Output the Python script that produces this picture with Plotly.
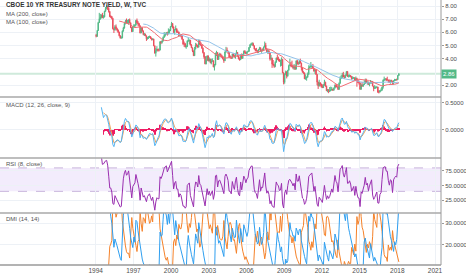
import numpy as np
import pandas as pd
import plotly.graph_objects as go
from plotly.subplots import make_subplots

# ---------------- data (monthly bars, Jan 1994 .. Feb 2018) ----------------
start_month = "1994-01-01"
first_open = 5.79
close = [
    5.70, 6.14, 6.74, 7.04, 7.15, 7.32, 7.11, 7.17, 7.60, 7.81, 7.91, 7.82,
    7.58, 7.20, 7.20, 7.06, 6.28, 6.20, 6.43, 6.28, 6.17, 6.02, 5.74, 5.57,
    5.58, 6.10, 6.33, 6.67, 6.85, 6.73, 6.80, 6.95, 6.72, 6.37, 6.06, 6.42,
    6.49, 6.55, 6.90, 6.72, 6.66, 6.50, 5.95, 6.34, 6.10, 5.83, 5.87, 5.74,
    5.51, 5.62, 5.65, 5.67, 5.55, 5.45, 5.49, 4.98, 4.42, 4.61, 4.71, 4.65,
    4.65, 5.29, 5.24, 5.35, 5.62, 5.78, 5.90, 5.97, 5.88, 6.02, 6.19, 6.44,
    6.67, 6.41, 6.00, 6.21, 6.27, 6.03, 6.03, 5.73, 5.80, 5.75, 5.47, 5.11,
    5.11, 4.90, 4.92, 5.34, 5.38, 5.41, 5.05, 4.83, 4.59, 4.23, 4.75, 5.05,
    5.03, 4.88, 5.40, 5.09, 5.04, 4.80, 4.46, 4.14, 3.60, 3.89, 4.21, 3.82,
    3.96, 3.69, 3.80, 3.84, 3.37, 3.52, 4.41, 4.46, 3.94, 4.29, 4.33, 4.25,
    4.13, 3.97, 3.84, 4.51, 4.65, 4.58, 4.48, 4.12, 4.12, 4.03, 4.35, 4.22,
    4.13, 4.36, 4.48, 4.20, 3.98, 3.92, 4.28, 4.02, 4.33, 4.56, 4.49, 4.39,
    4.52, 4.55, 4.85, 5.06, 5.12, 5.14, 4.98, 4.73, 4.63, 4.60, 4.46, 4.70,
    4.83, 4.56, 4.64, 4.63, 4.89, 5.03, 4.76, 4.53, 4.58, 4.47, 3.97, 4.03,
    3.59, 3.51, 3.41, 3.73, 4.06, 3.97, 3.95, 3.81, 3.82, 3.95, 2.93, 2.21,
    2.84, 3.01, 2.67, 3.12, 3.47, 3.53, 3.48, 3.40, 3.31, 3.39, 3.20, 3.84,
    3.61, 3.61, 3.84, 3.66, 3.29, 2.97, 2.91, 2.47, 2.51, 2.60, 2.81, 3.29,
    3.37, 3.42, 3.47, 3.29, 3.05, 3.16, 2.80, 2.22, 1.92, 2.17, 2.07, 1.88,
    1.80, 1.98, 2.21, 1.91, 1.56, 1.65, 1.51, 1.55, 1.63, 1.69, 1.61, 1.76,
    1.98, 1.88, 1.85, 1.67, 2.13, 2.49, 2.58, 2.78, 2.61, 2.55, 2.74, 3.03,
    2.64, 2.65, 2.72, 2.65, 2.47, 2.53, 2.56, 2.35, 2.51, 2.34, 2.18, 2.17,
    1.67, 1.99, 1.93, 2.03, 2.12, 2.35, 2.18, 2.22, 2.04, 2.14, 2.21, 2.27,
    1.92, 1.74, 1.77, 1.83, 1.85, 1.47, 1.46, 1.58, 1.60, 1.84, 2.37, 2.44,
    2.45, 2.39, 2.39, 2.28, 2.21, 2.30, 2.29, 2.12, 2.33, 2.38, 2.41, 2.40,
    2.72, 2.86,
]
high = [
    5.88, 6.18, 6.80, 7.48, 7.40, 7.36, 7.48, 7.30, 7.64, 7.92, 8.05, 7.95,
    7.90, 7.62, 7.30, 7.24, 7.10, 6.35, 6.55, 6.60, 6.35, 6.22, 6.05, 5.78,
    5.70, 6.15, 6.42, 6.72, 6.95, 7.05, 6.95, 7.00, 7.05, 6.75, 6.40, 6.45,
    6.62, 6.60, 6.95, 7.05, 6.85, 6.72, 6.52, 6.40, 6.38, 6.15, 5.96, 5.90,
    5.75, 5.65, 5.70, 5.75, 5.72, 5.60, 5.55, 5.52, 5.00, 4.80, 4.95, 4.75,
    4.78, 5.32, 5.33, 5.40, 5.68, 6.02, 5.98, 6.02, 6.05, 6.30, 6.22, 6.48,
    6.79, 6.70, 6.45, 6.25, 6.52, 6.30, 6.15, 6.05, 5.90, 5.85, 5.82, 5.50,
    5.30, 5.20, 5.05, 5.40, 5.58, 5.45, 5.42, 5.10, 4.85, 4.62, 4.90, 5.20,
    5.15, 5.05, 5.45, 5.42, 5.25, 5.05, 4.85, 4.50, 4.20, 4.20, 4.25, 4.25,
    4.10, 4.00, 4.00, 4.02, 3.88, 3.60, 4.45, 4.60, 4.48, 4.35, 4.45, 4.40,
    4.30, 4.18, 4.00, 4.55, 4.90, 4.85, 4.60, 4.50, 4.25, 4.15, 4.38, 4.40,
    4.30, 4.40, 4.65, 4.50, 4.22, 4.10, 4.35, 4.40, 4.36, 4.62, 4.65, 4.52,
    4.55, 4.62, 4.88, 5.10, 5.20, 5.25, 5.22, 5.00, 4.78, 4.82, 4.65, 4.72,
    4.90, 4.85, 4.70, 4.78, 4.92, 5.30, 5.20, 4.80, 4.72, 4.70, 4.45, 4.28,
    4.08, 3.90, 3.60, 3.80, 4.08, 4.30, 4.15, 3.98, 3.92, 4.10, 3.98, 2.95,
    2.88, 3.10, 3.05, 3.15, 3.55, 4.00, 3.75, 3.85, 3.48, 3.60, 3.50, 3.85,
    3.90, 3.75, 3.90, 4.00, 3.70, 3.35, 3.05, 2.95, 2.80, 2.65, 2.95, 3.50,
    3.48, 3.75, 3.50, 3.60, 3.30, 3.20, 3.22, 2.82, 2.25, 2.40, 2.20, 2.10,
    2.05, 2.06, 2.40, 2.25, 1.95, 1.70, 1.68, 1.85, 1.88, 1.85, 1.72, 1.82,
    2.05, 2.07, 2.08, 1.87, 2.20, 2.66, 2.75, 2.92, 3.00, 2.75, 2.80, 3.04,
    3.04, 2.79, 2.80, 2.75, 2.66, 2.66, 2.60, 2.58, 2.65, 2.55, 2.40, 2.33,
    2.18, 2.10, 2.25, 2.05, 2.36, 2.49, 2.48, 2.28, 2.26, 2.20, 2.38, 2.32,
    2.30, 1.92, 1.99, 1.90, 1.90, 1.87, 1.60, 1.60, 1.74, 1.86, 2.42, 2.64,
    2.52, 2.52, 2.63, 2.40, 2.42, 2.40, 2.40, 2.33, 2.36, 2.47, 2.42, 2.49,
    2.74, 2.88,
]
low = [
    5.62, 5.66, 6.10, 6.72, 6.95, 7.05, 7.08, 7.05, 7.14, 7.55, 7.75, 7.70,
    7.50, 7.15, 7.08, 6.98, 6.22, 5.95, 6.12, 6.22, 6.08, 5.95, 5.70, 5.52,
    5.53, 5.55, 6.05, 6.28, 6.60, 6.68, 6.65, 6.58, 6.68, 6.32, 6.02, 6.03,
    6.38, 6.35, 6.52, 6.68, 6.50, 6.42, 5.92, 5.94, 6.05, 5.78, 5.72, 5.70,
    5.35, 5.45, 5.50, 5.58, 5.50, 5.38, 5.40, 4.95, 4.40, 4.16, 4.55, 4.55,
    4.55, 4.64, 5.10, 5.15, 5.30, 5.60, 5.68, 5.82, 5.75, 5.85, 5.92, 6.10,
    6.40, 6.30, 5.95, 5.82, 6.15, 5.95, 5.95, 5.70, 5.68, 5.62, 5.45, 5.05,
    4.90, 4.85, 4.75, 4.88, 5.28, 5.08, 5.00, 4.80, 4.50, 4.20, 4.20, 4.70,
    4.90, 4.80, 4.85, 5.05, 4.95, 4.75, 4.40, 4.00, 3.58, 3.57, 3.85, 3.80,
    3.80, 3.65, 3.57, 3.78, 3.35, 3.10, 3.50, 4.20, 3.90, 3.92, 4.15, 4.10,
    4.05, 3.95, 3.68, 3.82, 4.45, 4.55, 4.35, 4.10, 4.00, 3.98, 4.02, 4.15,
    4.10, 4.00, 4.35, 4.15, 3.95, 3.85, 3.90, 4.00, 4.00, 4.30, 4.40, 4.35,
    4.32, 4.50, 4.55, 4.82, 5.00, 4.98, 4.95, 4.70, 4.55, 4.56, 4.42, 4.45,
    4.65, 4.52, 4.45, 4.55, 4.60, 4.85, 4.72, 4.45, 4.35, 4.37, 3.85, 3.90,
    3.30, 3.50, 3.30, 3.35, 3.70, 3.90, 3.80, 3.75, 3.40, 3.45, 2.90, 2.05,
    2.10, 2.75, 2.50, 2.65, 3.10, 3.45, 3.35, 3.35, 3.20, 3.15, 3.15, 3.20,
    3.55, 3.55, 3.58, 3.65, 3.10, 2.95, 2.85, 2.45, 2.40, 2.33, 2.55, 2.78,
    3.28, 3.40, 3.25, 3.27, 3.03, 2.85, 2.78, 1.98, 1.70, 1.90, 1.90, 1.80,
    1.78, 1.78, 1.96, 1.88, 1.54, 1.45, 1.38, 1.48, 1.58, 1.60, 1.55, 1.58,
    1.75, 1.84, 1.82, 1.62, 1.63, 2.10, 2.45, 2.55, 2.60, 2.48, 2.55, 2.70,
    2.63, 2.57, 2.60, 2.58, 2.40, 2.45, 2.45, 2.32, 2.35, 1.87, 2.16, 2.03,
    1.65, 1.66, 1.87, 1.85, 2.00, 2.09, 2.16, 2.03, 2.02, 1.90, 2.12, 2.10,
    1.90, 1.53, 1.73, 1.71, 1.79, 1.40, 1.36, 1.46, 1.52, 1.59, 1.72, 2.30,
    2.34, 2.31, 2.35, 2.17, 2.18, 2.10, 2.26, 2.04, 2.03, 2.30, 2.31, 2.34,
    2.40, 2.70,
]
last_price = 2.86

title_text = "CBOE 10 YR TREASURY NOTE YIELD, W, TVC"
ma_labels = ["MA (200, close)", "MA (100, close)"]
pane_labels = ["MACD (12, 26, close, 9)", "RSI (8, close)", "DMI (14, 14)"]
price_ticks = [1, 2, 4, 5, 6, 7, 8]          # 3.00 sits under the last-price tag
macd_ticks = [0.0, 0.5]
rsi_ticks = [25, 50, 75]
dmi_ticks = [20, 30]
rsi_band = [40, 80]
year_ticks = ["1994", "1997", "2000", "2003", "2006", "2009", "2012", "2015", "2018", "2021"]

# monthly equivalents of the weekly indicator lengths
ma_long, ma_short = 46, 23
macd_fast, macd_slow, macd_sig = 3, 6, 3
rsi_len = 5
dmi_len = 7

# ---------------- indicator computation ----------------
c = np.array(close, float)
h = np.array(high, float)
l = np.array(low, float)
o = np.concatenate([[first_open], c[:-1]])
dates = pd.date_range(start_month, periods=len(c), freq="MS") + pd.Timedelta(days=14)


def smooth(x, n, alpha):
    x = np.asarray(x, float)
    out = np.full(len(x), np.nan)
    valid = np.where(~np.isnan(x))[0]
    if len(valid) < n:
        return out
    f = valid[0]
    out[f + n - 1] = np.mean(x[f:f + n])
    for i in range(f + n, len(x)):
        out[i] = alpha * x[i] + (1 - alpha) * out[i - 1]
    return out


def ema(x, n):
    return smooth(x, n, 2.0 / (n + 1))


def rma(x, n):
    return smooth(x, n, 1.0 / n)


ma200 = pd.Series(c).rolling(ma_long).mean().to_numpy()
ma100 = pd.Series(c).rolling(ma_short).mean().to_numpy()

macd = ema(c, macd_fast) - ema(c, macd_slow)
signal = ema(macd, macd_sig)
hist = macd - signal

ch = np.diff(c, prepend=np.nan)
up = np.where(np.isnan(ch), np.nan, np.maximum(ch, 0))
dn = np.where(np.isnan(ch), np.nan, np.maximum(-ch, 0))
ru, rd = rma(up, rsi_len), rma(dn, rsi_len)
rsi = np.where(rd == 0, 100.0, 100 - 100 / (1 + ru / np.where(rd == 0, 1, rd)))

hp = np.concatenate([[np.nan], h[:-1]])
lp = np.concatenate([[np.nan], l[:-1]])
cp = np.concatenate([[np.nan], c[:-1]])
upm = h - hp
dnm = lp - l
plus_dm = np.where((upm > dnm) & (upm > 0), upm, 0.0)
minus_dm = np.where((dnm > upm) & (dnm > 0), dnm, 0.0)
plus_dm[0] = np.nan
minus_dm[0] = np.nan
tr = np.maximum(h - l, np.maximum(np.abs(h - cp), np.abs(l - cp)))
trur = rma(tr, dmi_len)
di_plus = 100 * rma(plus_dm, dmi_len) / trur
di_minus = 100 * rma(minus_dm, dmi_len) / trur

# ---------------- figure ----------------
W, H = 466, 275
PLOT_H = 265.0
FONT = "Liberation Sans, Arial, sans-serif"


def py(p):  # pixel row -> paper y
    return (PLOT_H - p) / PLOT_H


fig = make_subplots(rows=4, cols=1, shared_xaxes=True, vertical_spacing=0)

up_col, dn_col = "#53b987", "#eb4d5c"
fig.add_trace(go.Candlestick(
    x=dates, open=o, high=h, low=l, close=c,
    increasing=dict(line=dict(color=up_col, width=1), fillcolor=up_col),
    decreasing=dict(line=dict(color=dn_col, width=1), fillcolor=dn_col),
    whiskerwidth=0, showlegend=False), row=1, col=1)
fig.add_trace(go.Scatter(x=dates, y=ma200, mode="lines",
                         line=dict(color="#92c3ea", width=1), showlegend=False), row=1, col=1)
fig.add_trace(go.Scatter(x=dates, y=ma100, mode="lines",
                         line=dict(color="#f26b72", width=1), showlegend=False), row=1, col=1)

fig.add_trace(go.Bar(x=dates, y=hist, marker=dict(color="#ee1c64", line=dict(width=0)),
                     showlegend=False), row=2, col=1)
fig.add_trace(go.Scatter(x=dates, y=signal, mode="lines",
                         line=dict(color="#f3a35a", width=1), showlegend=False), row=2, col=1)
fig.add_trace(go.Scatter(x=dates, y=macd, mode="lines",
                         line=dict(color="#55b4f2", width=1), showlegend=False), row=2, col=1)

fig.add_trace(go.Scatter(x=dates, y=rsi, mode="lines",
                         line=dict(color="#9a2fb0", width=1), showlegend=False), row=3, col=1)

fig.add_trace(go.Scatter(x=dates, y=di_minus, mode="lines",
                         line=dict(color="#f5822a", width=1), showlegend=False), row=4, col=1)
fig.add_trace(go.Scatter(x=dates, y=di_plus, mode="lines",
                         line=dict(color="#2f9ff0", width=1), showlegend=False), row=4, col=1)

grid = "#edf1f6"
tick_font = dict(family=FONT, size=6, color="#4d4d4d")
fig.update_xaxes(type="date", range=["1986-05-22", "2021-06-24"],
                 tickmode="array", tickvals=year_ticks, tickformat="%Y",
                 showgrid=True, gridcolor=grid, gridwidth=1,
                 zeroline=False, showline=False, rangeslider_visible=False,
                 showticklabels=False, ticks="")
fig.update_xaxes(showticklabels=True, ticks="",
                 tickfont=dict(family=FONT, size=6.5, color="#4d4d4d"),
                 row=4, col=1)

yax = dict(side="right", showgrid=True, gridcolor=grid, zeroline=False, showline=False,
           ticks="outside", ticklen=2, tickcolor="#999999", tickfont=tick_font)
fig.update_layout(
    yaxis=dict(domain=[py(97), 1], range=[1.09, 8.456], tickvals=price_ticks, tickformat=".2f", **yax),
    yaxis2=dict(domain=[py(158), py(97)], range=[-0.519, 0.611], tickvals=macd_ticks, tickformat=".4f", **yax),
    yaxis3=dict(domain=[py(213), py(158)], range=[3.07, 96.9], tickvals=rsi_ticks, tickformat=".4f", **yax),
    yaxis4=dict(domain=[0, py(213)], range=[10.51, 34.81], tickvals=dmi_ticks, tickformat=".4f", **yax),
)

shapes = []
# RSI band
shapes.append(dict(type="rect", xref="x3 domain", yref="y3", x0=0, x1=1, y0=rsi_band[0], y1=rsi_band[1],
                   fillcolor="rgba(160,110,235,0.13)", line=dict(width=0), layer="below"))
for v in rsi_band:
    shapes.append(dict(type="line", xref="x3 domain", yref="y3", x0=0, x1=1, y0=v, y1=v,
                       line=dict(color="#c8b4dc", width=1, dash="dash"), layer="below"))
# last price line
shapes.append(dict(type="line", xref="x domain", yref="y", x0=0, x1=1, y0=last_price, y1=last_price,
                   line=dict(color="#cfeadb", width=2), layer="below"))
# pane separators
for p in [97, 158, 213]:
    shapes.append(dict(type="line", xref="paper", yref="paper", x0=0, x1=1, y0=py(p), y1=py(p),
                       line=dict(color="#a8a8a8", width=1.5)))
shapes.append(dict(type="line", xref="paper", yref="paper", x0=0, x1=1, y0=0, y1=0,
                   line=dict(color="#9a9a9a", width=1.5)))
shapes.append(dict(type="line", xref="paper", yref="paper", x0=1, x1=1, y0=0, y1=1,
                   line=dict(color="#9a9a9a", width=1)))

lab_font = dict(family=FONT, size=6, color="#555555")


def label(text, prow, font):
    return dict(text=text, x=0.008, y=py(prow), xref="paper", yref="paper",
                xanchor="left", yanchor="middle", showarrow=False, font=font)


annotations = [
    label(title_text, 5, dict(family=FONT, size=6.4, color="#333333", weight="bold")),
    label(ma_labels[0], 14, lab_font),
    label(ma_labels[1], 22, lab_font),
    label(pane_labels[0], 105, lab_font),
    label(pane_labels[1], 164, lab_font),
    label(pane_labels[2], 219, lab_font),
    dict(text="%.2f" % last_price, x=1, y=last_price, xref="paper", yref="y", xanchor="left", yanchor="middle",
         showarrow=False, bgcolor="#53b987", borderpad=1,
         font=dict(family=FONT, size=6, color="#ffffff")),
]

fig.update_layout(
    width=W, height=H, margin=dict(l=0, r=25, t=0, b=10, autoexpand=False),
    paper_bgcolor="#ffffff", plot_bgcolor="#ffffff",
    shapes=shapes, annotations=annotations, bargap=0.2, showlegend=False,
    font=dict(family=FONT),
)

fig.write_html("out.html")
